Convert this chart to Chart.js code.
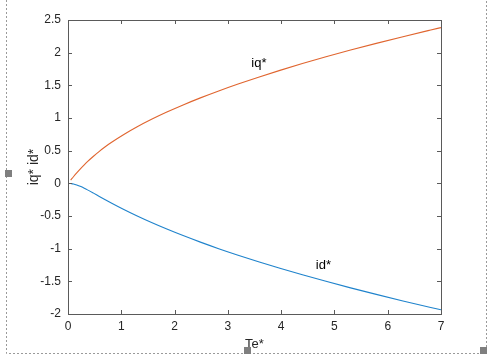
<!DOCTYPE html>
<html><head><meta charset="utf-8">
<script src="https://cdn.jsdelivr.net/npm/chart.js@4.4.0/dist/chart.umd.min.js"></script>
<style>html,body{margin:0;padding:0;background:#fff}#wrap{width:490px;height:358px;position:relative}</style>
</head><body><div id="wrap"><canvas id="c" width="490" height="358"></canvas></div>
<script>
// ---- data ----
const te = [0.050, 0.102, 0.164, 0.241, 0.305, 0.365, 0.478, 0.588, 0.699, 0.812, 1.048, 1.299, 1.568, 1.855, 2.160, 2.485, 2.828, 3.192, 3.575, 3.977, 4.399, 4.841, 5.303, 5.785, 6.286, 6.807, 7.000];
const iqVals = [0.050, 0.101, 0.160, 0.229, 0.284, 0.332, 0.415, 0.490, 0.559, 0.625, 0.748, 0.866, 0.980, 1.091, 1.200, 1.308, 1.414, 1.520, 1.625, 1.729, 1.833, 1.937, 2.040, 2.142, 2.245, 2.347, 2.384];
const idVals = [-0.003, -0.010, -0.025, -0.050, -0.075, -0.100, -0.150, -0.200, -0.250, -0.300, -0.400, -0.500, -0.600, -0.700, -0.800, -0.900, -1.000, -1.100, -1.200, -1.300, -1.400, -1.500, -1.600, -1.700, -1.800, -1.900, -1.936];
const xTicks = [0, 1, 2, 3, 4, 5, 6, 7];
const yTicks = [-2, -1.5, -1, -0.5, 0, 0.5, 1, 1.5, 2, 2.5];
const xTitle = 'Te*';
const yTitle = 'iq* id*';
const noteText = ['iq*', 'id*'];
const noteX = [3.44, 4.65];
const noteY = [1.84, -1.26];

const FONT = '"Liberation Sans", Arial, Helvetica, sans-serif';
const AXIS = '#5a5a5a';
const TXT = '#262626';

const frame = {
  id: 'frame',
  beforeDraw(chart) {
    const c = chart.ctx;
    c.save();
    c.fillStyle = '#fff';
    c.fillRect(0, 0, chart.width, chart.height);
    c.restore();
  },
  afterDatasetsDraw(chart) {
    const c = chart.ctx, a = chart.chartArea;
    const xs = chart.scales.x, ys = chart.scales.y;
    c.save();
    c.strokeStyle = AXIS;
    c.lineWidth = 1;
    c.strokeRect(Math.round(a.left) + 0.5, Math.round(a.top) + 0.5, Math.round(a.right - a.left), Math.round(a.bottom - a.top));
    const tl = 4;
    c.beginPath();
    xTicks.forEach(v => {
      const p = Math.round(xs.getPixelForValue(v)) + 0.5;
      c.moveTo(p, a.bottom); c.lineTo(p, a.bottom - tl);
      c.moveTo(p, a.top); c.lineTo(p, a.top + tl);
    });
    yTicks.forEach(v => {
      const p = Math.round(ys.getPixelForValue(v)) + 0.5;
      c.moveTo(a.left, p); c.lineTo(a.left + tl, p);
      c.moveTo(a.right, p); c.lineTo(a.right - tl, p);
    });
    c.stroke();
    // text annotations
    c.fillStyle = '#000';
    c.font = '13px ' + FONT;
    c.textAlign = 'left';
    c.textBaseline = 'middle';
    noteText.forEach((t, i) => {
      c.fillText(t, xs.getPixelForValue(noteX[i]), ys.getPixelForValue(noteY[i]));
    });
    c.restore();
  },
  afterDraw(chart) {
    const c = chart.ctx;
    c.save();
    c.strokeStyle = '#9a9a9a';
    c.lineWidth = 1;
    c.setLineDash([2, 2]);
    c.beginPath();
    c.moveTo(6.5, 0); c.lineTo(6.5, 353.5);
    c.lineTo(486.5, 353.5); c.lineTo(486.5, 0);
    c.stroke();
    c.setLineDash([]);
    c.fillStyle = '#7f7f7f';
    c.fillRect(5, 170, 7, 7);
    c.fillRect(244, 347, 7, 7);
    c.fillRect(480, 347, 7, 7);
    c.restore();
  }
};

new Chart(document.getElementById('c'), {
  type: 'line',
  data: {
    datasets: [
      { label: 'iq*', data: te.map((x, i) => ({ x, y: iqVals[i] })), borderColor: '#E0652F', borderWidth: 1.1, pointRadius: 0, cubicInterpolationMode: 'monotone', fill: false },
      { label: 'id*', data: te.map((x, i) => ({ x, y: idVals[i] })), borderColor: '#1F83CC', borderWidth: 1.1, pointRadius: 0, cubicInterpolationMode: 'monotone', fill: false }
    ]
  },
  options: {
    responsive: false,
    devicePixelRatio: 1,
    animation: false,
    layout: { padding: { left: 0, top: 20, right: 49, bottom: 0 } },
    plugins: { legend: { display: false }, tooltip: { enabled: false } },
    scales: {
      x: {
        type: 'linear', min: 0, max: 7,
        afterBuildTicks: s => { s.ticks = xTicks.map(v => ({ value: v })); },
        afterFit: s => { s.height = 44; },
        grid: { display: false, drawTicks: false },
        border: { display: false },
        ticks: { padding: 5, color: TXT, font: { family: FONT, size: 12 }, maxRotation: 0, callback: v => String(v) },
        title: { display: true, text: xTitle, color: TXT, font: { family: FONT, size: 13 }, padding: { top: 0, bottom: 6 } }
      },
      y: {
        type: 'linear', min: -2, max: 2.5,
        afterBuildTicks: s => { s.ticks = yTicks.map(v => ({ value: v })); },
        afterFit: s => { s.width = 68; },
        grid: { display: false, drawTicks: false },
        border: { display: false },
        ticks: { padding: 7, color: TXT, font: { family: FONT, size: 12 }, callback: v => String(v) },
        title: { display: true, text: yTitle, color: TXT, font: { family: FONT, size: 14 }, padding: { top: 26, bottom: 0 } }
      }
    }
  },
  plugins: [frame]
});
</script>
</body></html>
